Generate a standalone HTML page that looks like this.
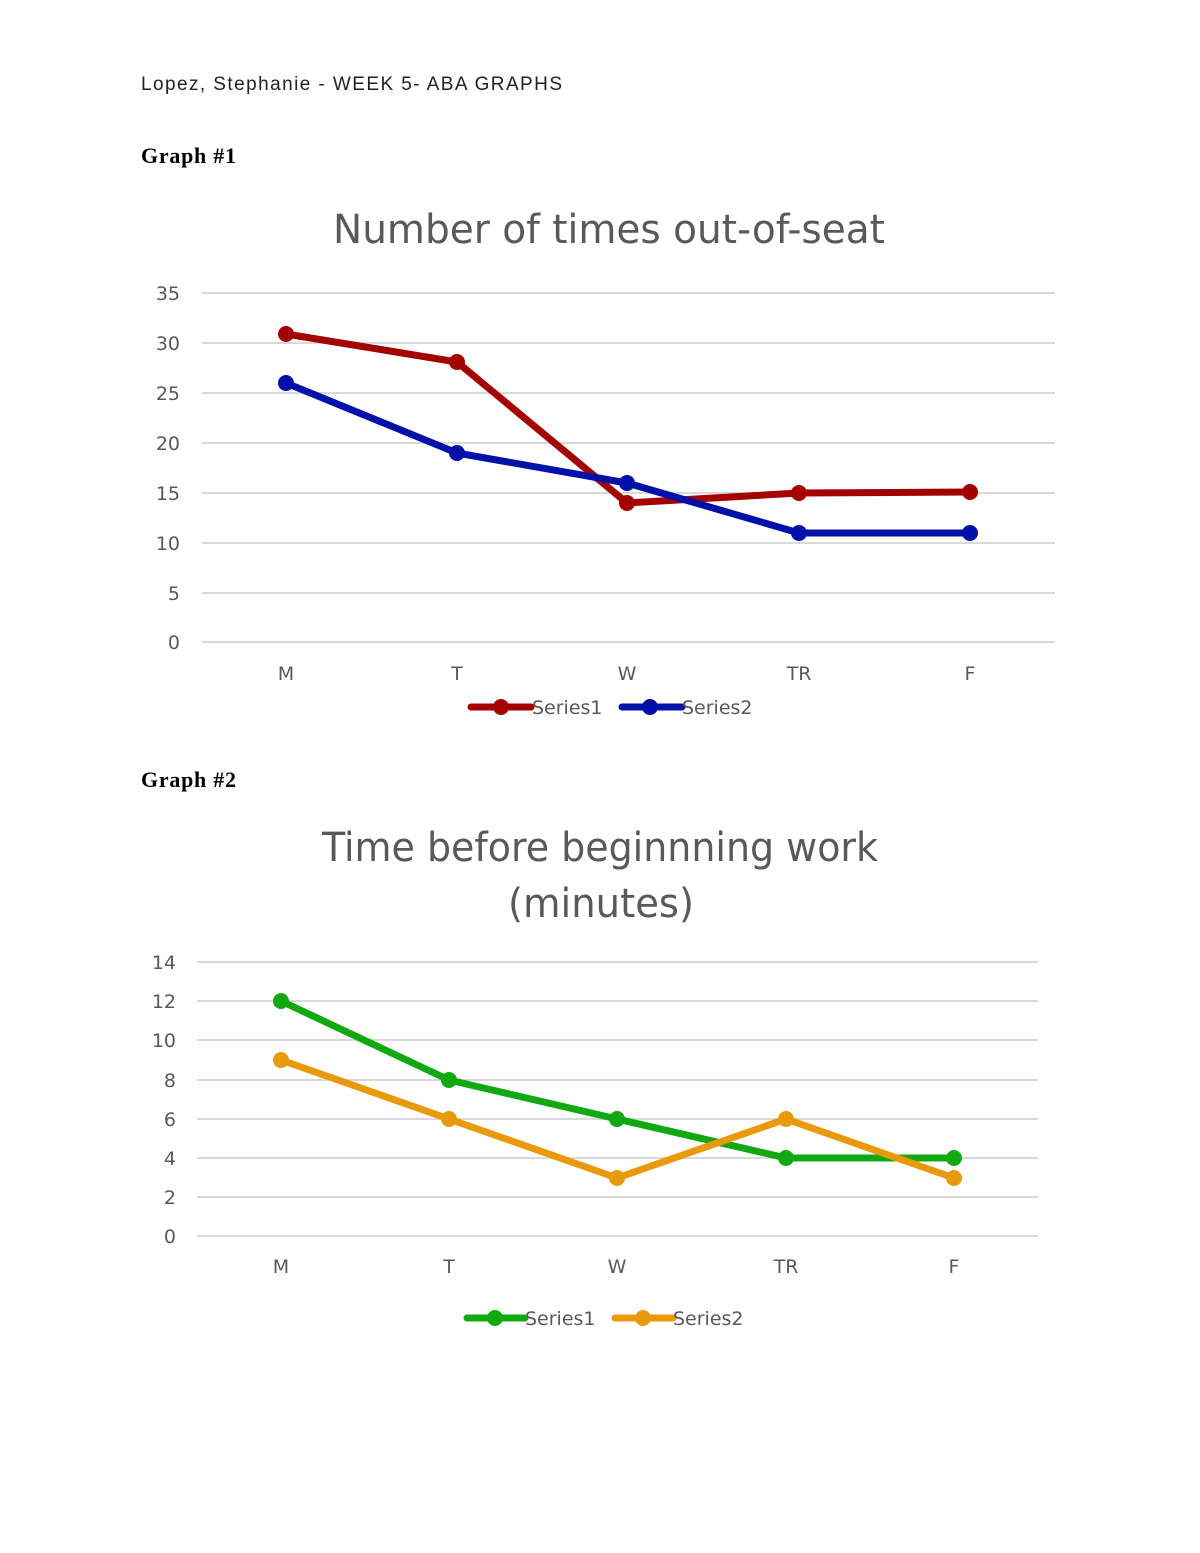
<!DOCTYPE html>
<html><head><style>
body{margin:0;background:#fff;}
svg{display:block}
</style></head><body>
<svg width="1200" height="1553" xmlns="http://www.w3.org/2000/svg">
<text x="141" y="90" font-family="Liberation Sans, sans-serif" font-size="19" fill="#222" textLength="421" lengthAdjust="spacing">Lopez, Stephanie - WEEK 5- ABA GRAPHS</text>
<text x="141" y="163" font-family="Liberation Serif, serif" font-size="22" font-weight="bold" fill="#000" textLength="95">Graph #1</text>
<text x="141" y="787" font-family="Liberation Serif, serif" font-size="22" font-weight="bold" fill="#000" textLength="95">Graph #2</text>

<g font-family="DejaVu Sans, Liberation Sans, sans-serif" fill="#595959">
<text x="333" y="243" font-size="40" textLength="552" lengthAdjust="spacingAndGlyphs">Number of times out-of-seat</text>
<g stroke="#d9d9d9" stroke-width="2">
<line x1="202" x2="1055" y1="293" y2="293"/><line x1="202" x2="1055" y1="343" y2="343"/>
<line x1="202" x2="1055" y1="393" y2="393"/><line x1="202" x2="1055" y1="443" y2="443"/>
<line x1="202" x2="1055" y1="493" y2="493"/><line x1="202" x2="1055" y1="543" y2="543"/>
<line x1="202" x2="1055" y1="593" y2="593"/><line x1="202" x2="1055" y1="642" y2="642"/>
</g>
<g font-size="19" text-anchor="end">
<text x="180" y="300">35</text><text x="180" y="350">30</text><text x="180" y="400">25</text><text x="180" y="450">20</text>
<text x="180" y="500">15</text><text x="180" y="550">10</text><text x="180" y="600">5</text><text x="180" y="649">0</text>
</g>
<g font-size="19" text-anchor="middle">
<text x="286" y="680">M</text><text x="457" y="680">T</text><text x="627" y="680">W</text><text x="799" y="680">TR</text><text x="970" y="680">F</text>
</g>
<polyline points="286,334 457,362 627,503 799,493 970,492" fill="none" stroke="#a50000" stroke-width="7" stroke-linejoin="round"/>
<g fill="#a50000"><circle cx="286" cy="334" r="8"/><circle cx="457" cy="362" r="8"/><circle cx="627" cy="503" r="8"/><circle cx="799" cy="493" r="8"/><circle cx="970" cy="492" r="8"/></g>
<polyline points="286,383 457,453 627,483 799,533 970,533" fill="none" stroke="#0010a8" stroke-width="7" stroke-linejoin="round"/>
<g fill="#0010a8"><circle cx="286" cy="383" r="8"/><circle cx="457" cy="453" r="8"/><circle cx="627" cy="483" r="8"/><circle cx="799" cy="533" r="8"/><circle cx="970" cy="533" r="8"/></g>
<line x1="471" x2="531" y1="707" y2="707" stroke="#a50000" stroke-width="7" stroke-linecap="round"/><circle cx="501" cy="707" r="8" fill="#a50000"/>
<text x="532" y="714" font-size="19">Series1</text>
<line x1="622" x2="682" y1="707" y2="707" stroke="#0010a8" stroke-width="7" stroke-linecap="round"/><circle cx="650" cy="707" r="8" fill="#0010a8"/>
<text x="682" y="714" font-size="19">Series2</text>

<text x="322" y="861" font-size="40" textLength="556" lengthAdjust="spacingAndGlyphs">Time before beginnning work</text>
<text x="508" y="917" font-size="40" textLength="186" lengthAdjust="spacingAndGlyphs">(minutes)</text>
<g stroke="#d9d9d9" stroke-width="2">
<line x1="197" x2="1038" y1="962" y2="962"/><line x1="197" x2="1038" y1="1001" y2="1001"/>
<line x1="197" x2="1038" y1="1040" y2="1040"/><line x1="197" x2="1038" y1="1080" y2="1080"/>
<line x1="197" x2="1038" y1="1119" y2="1119"/><line x1="197" x2="1038" y1="1158" y2="1158"/>
<line x1="197" x2="1038" y1="1197" y2="1197"/><line x1="197" x2="1038" y1="1236" y2="1236"/>
</g>
<g font-size="19" text-anchor="end">
<text x="176" y="969">14</text><text x="176" y="1008">12</text><text x="176" y="1047">10</text><text x="176" y="1087">8</text>
<text x="176" y="1126">6</text><text x="176" y="1165">4</text><text x="176" y="1204">2</text><text x="176" y="1243">0</text>
</g>
<g font-size="19" text-anchor="middle">
<text x="281" y="1273">M</text><text x="449" y="1273">T</text><text x="617" y="1273">W</text><text x="786" y="1273">TR</text><text x="954" y="1273">F</text>
</g>
<polyline points="281,1001 449,1080 617,1119 786,1158 954,1158" fill="none" stroke="#12a812" stroke-width="7" stroke-linejoin="round"/>
<g fill="#12a812"><circle cx="281" cy="1001" r="8"/><circle cx="449" cy="1080" r="8"/><circle cx="617" cy="1119" r="8"/><circle cx="786" cy="1158" r="8"/><circle cx="954" cy="1158" r="8"/></g>
<polyline points="281,1060 449,1119 617,1178 786,1119 954,1178" fill="none" stroke="#e89a0c" stroke-width="7" stroke-linejoin="round"/>
<g fill="#e89a0c"><circle cx="281" cy="1060" r="8"/><circle cx="449" cy="1119" r="8"/><circle cx="617" cy="1178" r="8"/><circle cx="786" cy="1119" r="8"/><circle cx="954" cy="1178" r="8"/></g>
<line x1="467" x2="525" y1="1318" y2="1318" stroke="#12a812" stroke-width="7" stroke-linecap="round"/><circle cx="495" cy="1318" r="8" fill="#12a812"/>
<text x="525" y="1325" font-size="19">Series1</text>
<line x1="615" x2="673" y1="1318" y2="1318" stroke="#e89a0c" stroke-width="7" stroke-linecap="round"/><circle cx="643" cy="1318" r="8" fill="#e89a0c"/>
<text x="673" y="1325" font-size="19">Series2</text>
</g>
</svg>
</body></html>
